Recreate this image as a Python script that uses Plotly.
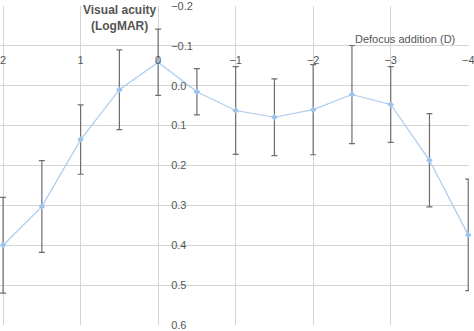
import plotly.graph_objects as go

defocus = [2.0, 1.5, 1.0, 0.5, 0.0, -0.5, -1.0, -1.5, -2.0, -2.5, -3.0, -3.5, -4.0]
logmar = [0.40, 0.303, 0.135, 0.01, -0.059, 0.015, 0.062, 0.079, 0.06, 0.022, 0.047, 0.187, 0.374]
sd = [0.12, 0.115, 0.087, 0.10, 0.083, 0.058, 0.11, 0.096, 0.113, 0.123, 0.095, 0.117, 0.14]

x_range = [2.04, -4.01]
y_range = [0.6, -0.2]

font = dict(family="Liberation Sans, Arial, sans-serif", size=11, color="#555555")

fig = go.Figure()
fig.add_trace(go.Scatter(
    x=defocus, y=logmar, mode="lines+markers",
    line=dict(color="#a9ccf0", width=1.2),
    marker=dict(color="#9cc3ec", size=5, symbol="diamond"),
    error_y=dict(type="data", array=sd, visible=True, color="#6e6e6e", thickness=1.2, width=3),
    cliponaxis=False, showlegend=False,
))

ypos_frac = (x_range[0] - 0) / (x_range[0] - x_range[1])
xpos_frac = (y_range[0] - (-0.1)) / (y_range[0] - y_range[1])

fig.update_layout(
    width=474, height=331,
    margin=dict(l=0, r=0, t=3, b=3),
    plot_bgcolor="white", paper_bgcolor="white",
    font=font,
    xaxis=dict(range=x_range, dtick=1, tick0=0, showgrid=True, gridcolor="#d4d4d4", gridwidth=1,
               zeroline=False, showline=False, anchor="free", position=xpos_frac, side="bottom",
               ticks="", tickfont=font, ticklabeloverflow="allow", ticklabelstandoff=6),
    yaxis=dict(range=y_range, dtick=0.1, tick0=0, tickformat=".1f", showgrid=True, gridcolor="#d4d4d4",
               gridwidth=1, zeroline=False, showline=False, anchor="free", position=ypos_frac,
               side="right", ticks="", tickfont=font, ticklabeloverflow="allow", ticklabelstandoff=12),
    annotations=[
        dict(text="<b>Visual acuity<br>(LogMAR)</b>", x=0.5, y=-0.17, xref="x", yref="y",
             showarrow=False, font=dict(family="Liberation Sans, Arial, sans-serif", size=12, color="#555555")),
        dict(text="Defocus addition (D)", x=-3.19, y=-0.117, xref="x", yref="y", showarrow=False,
             font=font),
    ],
)

fig.write_html("out.html")
